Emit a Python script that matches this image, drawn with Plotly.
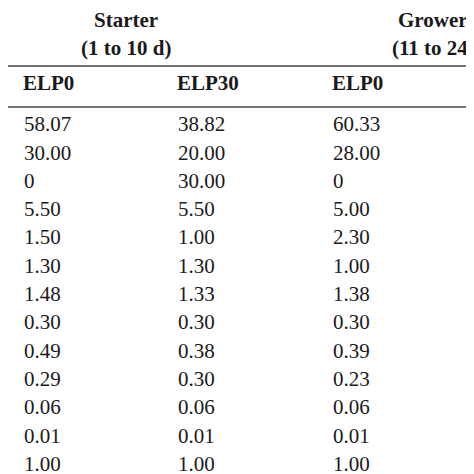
import plotly.graph_objects as go

# table values (rows top to bottom), three visible columns
starter_elp0 = ["58.07", "30.00", "0", "5.50", "1.50", "1.30", "1.48", "0.30", "0.49", "0.29", "0.06", "0.01", "1.00"]
starter_elp30 = ["38.82", "20.00", "30.00", "5.50", "1.00", "1.30", "1.33", "0.30", "0.38", "0.30", "0.06", "0.01", "1.00"]
grower_elp0 = ["60.33", "28.00", "0", "5.00", "2.30", "1.00", "1.38", "0.30", "0.39", "0.23", "0.06", "0.01", "1.00"]
columns = [starter_elp0, starter_elp30, grower_elp0]
col_x = [16, 170, 325]
col_heads = ["ELP0", "ELP30", "ELP0"]

ROW0, STEP = 118, 28.3
FONT = "Liberation Serif"
INK = "#1a1a1a"

fig = go.Figure()
for x, vals in zip(col_x, columns):
    fig.add_trace(go.Scatter(
        x=[x] * len(vals), y=list(range(len(vals))), text=vals,
        mode="text", textposition="middle right",
        textfont=dict(family=FONT, size=21, color=INK),
        showlegend=False, hoverinfo="skip", cliponaxis=False))

def row_of(py):
    return (py - ROW0) / STEP

# group headers
fig.add_annotation(x=118, y=row_of(12), text="<b>Starter</b>", showarrow=False,
                   xanchor="center", font=dict(family=FONT, size=21, color=INK))
fig.add_annotation(x=118, y=row_of(40), text="<b>(1 to 10 d)</b>", showarrow=False,
                   xanchor="center", font=dict(family=FONT, size=21, color=INK))
fig.add_annotation(x=388, y=row_of(12), text="<b>Grower</b>", showarrow=False,
                   xanchor="left", font=dict(family=FONT, size=21, color=INK))
fig.add_annotation(x=382, y=row_of(40), text="<b>(11 to 24 d)</b>", showarrow=False,
                   xanchor="left", font=dict(family=FONT, size=21, color=INK))
for x, t in zip(col_x, col_heads):
    fig.add_annotation(x=x - 3, y=row_of(75), text="<b>" + t + "</b>", showarrow=False,
                       xanchor="left", font=dict(family=FONT, size=21, color=INK))

for py in [58, 99]:
    fig.add_shape(type="line", x0=0, x1=474, y0=row_of(py), y1=row_of(py),
                  line=dict(color="#444", width=1.5))

fig.update_layout(
    width=474, height=474, margin=dict(l=0, r=0, t=0, b=0),
    plot_bgcolor="white", paper_bgcolor="white",
    xaxis=dict(range=[0, 474], visible=False),
    yaxis=dict(range=[row_of(474), row_of(0)], visible=False),
)
fig.write_html("out.html")
